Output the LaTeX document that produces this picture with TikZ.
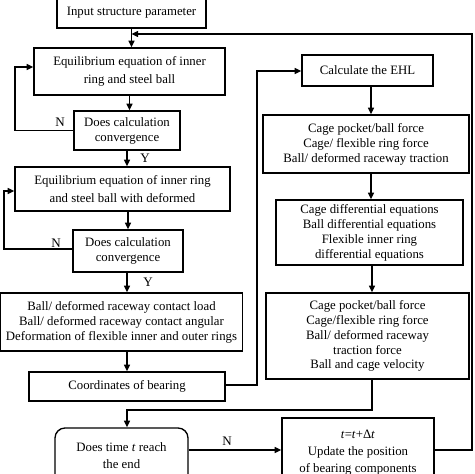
\documentclass[tikz,border=0pt]{standalone}
\usepackage{fontspec}
\setmainfont{Liberation Serif}
\usetikzlibrary{arrows.meta, positioning, calc}

\begin{document}
\begin{tikzpicture}[
    x=0.75pt, y=-0.75pt,
    >={Triangle[length=5pt, width=4.5pt]},
    line width=1pt,
    block/.style={draw, inner sep=0pt, align=center, font=\fontsize{9.6}{11.2}\selectfont},
    test/.style={block, rounded corners=7.5pt},
    flow/.style={->},
    lbl/.style={font=\fontsize{9.8}{11.2}\selectfont}
]
\useasboundingbox (0, 0) rectangle (474, 474);
\clip (0, 0) rectangle (474, 474);

\node (Input) at (131.5, 13) [block, minimum width=111.75pt, minimum height=22.5pt] {Input structure parameter};

\node (Eq1) at (129.5, 71.5) [block, minimum width=143.25pt, minimum height=35.25pt] {Equilibrium equation of inner\\[2.5pt] ring and steel ball};
\node (Conv1) at (127, 130.5) [block, minimum width=79.5pt, minimum height=29.25pt] {Does calculation\\ convergence};

\node (Eq2) at (122.5, 189) [block, minimum width=161.25pt, minimum height=33pt] {Equilibrium equation of inner ring\\[2pt] and steel ball with deformed};
\node (Conv2) at (128, 251) [block, minimum width=82.5pt, minimum height=31.5pt] {Does calculation\\ convergence};

\node (Ball) at (121.5, 322) [block, minimum width=181.5pt, minimum height=43.5pt] {Ball/ deformed raceway contact load\\ Ball/ deformed raceway contact angular\\ Deformation of flexible inner and outer rings};
\node (Coord) at (127, 386.5) [block, minimum width=147pt, minimum height=21.75pt] {Coordinates of bearing};

\node (Time) at (121.5, 456) [test, minimum width=99.75pt, minimum height=42pt] {Does time \textit{t} reach\\[1.5pt] the end};
\node (Update) at (358, 453) [block, minimum width=114pt, minimum height=52.5pt] {\textit{t}=\textit{t}+Δ\textit{t}\\[1.5pt] Update the position\\[1.5pt] of bearing components};

\node (EHL) at (367.5, 70.5) [block, minimum width=98.25pt, minimum height=23.25pt] {Calculate the EHL};
\node (Cage1) at (366, 144) [block, minimum width=154.5pt, minimum height=43.5pt] {Cage pocket/ball force\\ Cage/ flexible ring force\\ Ball/ deformed raceway traction};
\node (Diff) at (369.5, 232.5) [block, minimum width=140.25pt, minimum height=48.75pt] {Cage differential equations\\ Ball differential equations\\ Flexible inner ring\\ differential equations};
\node (Cage2) at (367.5, 336) [block, minimum width=152.25pt, minimum height=64.5pt] {Cage pocket/ball force\\ Cage/flexible ring force\\ Ball/ deformed raceway\\ traction force\\ Ball and cage velocity};

\draw[flow] (Input.south) -- (Input.south |- Eq1.north);
\draw[flow] (Eq1.south) -- (Eq1.south |- Conv1.north);
\draw[flow] (Conv1.south) -- (Conv1.south |- Eq2.north);
\draw[flow] (Eq2.south -| Conv2) -- (Conv2.north);
\draw[flow] (Conv2.south -| Conv1) -- (Conv1 |- Ball.north);
\draw[flow] (Ball.south -| Coord) -- (Coord.north);

\draw[flow] (Conv1.west) -- (15, 130.5) -- (15, 67) -- (Eq1.west |- 0, 67);
\draw[flow] (Conv2.west |- 0, 249) -- (4, 249) -- (4, 191) -- (Eq2.west |- 0, 191);
\node (N1) at (60, 122) [lbl] {N};
\node (Y1) at (145, 158) [lbl] {Y};
\node (N2) at (56, 243) [lbl] {N};
\node (Y2) at (148, 282) [lbl] {Y};

\draw[flow] (EHL.south -| 371, 0) -- (Cage1.north -| 371, 0);
\draw[flow] (Cage1.south -| 371, 0) -- (Diff.north -| 371, 0);
\draw[flow] (Diff.south -| 372, 0) -- (Cage2.north -| 372, 0);

\draw[flow] (Coord.east |- 0, 385) -- (257, 385) -- (257, 71) -- (EHL.west |- 0, 71);
\draw[flow] (Cage2.south -| 372, 0) -- (372, 410) -- (127, 410) -- (Time.north -| 127, 0);

\draw[flow] (Time.east |- 0, 450) -- (Update.west |- 0, 450);
\node (N3) at (227, 441) [lbl] {N};
\draw[flow] (Update.east |- 0, 450) -- (472, 450) -- (472, 34) -- (Input.south |- 0, 34);

\end{tikzpicture}
\end{document}
